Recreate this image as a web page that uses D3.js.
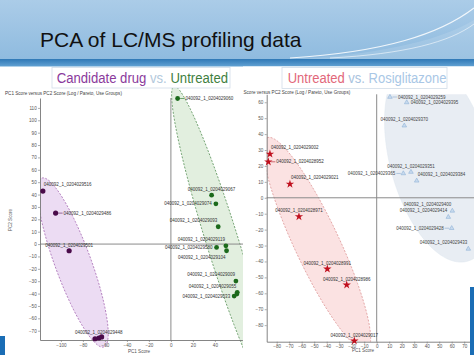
<!DOCTYPE html>
<html><head><meta charset="utf-8">
<script src="https://cdn.jsdelivr.net/npm/d3@7/dist/d3.min.js"></script>
<style>html,body{margin:0;padding:0;background:#fff;} svg{display:block;font-family:Arial,"Liberation Sans",Helvetica,sans-serif;}</style>
</head><body><svg id="c" width="474" height="355"></svg>
<script>
// ---------- text ----------
const slideTitle = "PCA of LC/MS profiling data";
const plotTitleLeft = "PC1 Score versus PC2 Score (Log / Pareto, Use Groups)";
const plotTitleRight = "Score versus PC2 Score (Log / Pareto, Use Groups)";
const xAxisTitle = "PC1 Score";
const yAxisTitle = "PC2 Score";
const legendLeftText = ["Candidate drug", " vs. ", "Untreated"];
const legendLeftColor = ["#8b3a9c", "#b3c9dc", "#3f7f3f"];
const legendRightText = ["Untreated", " vs. ", "Rosiglitazone"];
const legendRightColor = ["#e2677a", "#a9c3de", "#a9c7e6"];

// ---------- left chart: Candidate drug vs Untreated ----------
const leftXTicks = [-100, -80, -60, -40, -20, 0, 20, 40];
const leftYTicks = [-70, -60, -50, -40, -30, -20, -10, 0, 10, 20, 30, 40, 50, 60, 70, 80, 90, 100, 110];
const leftXDomain = [-119, 65];
const leftYDomain = [-77.5, 118];

const drugNames = ["040092_1_0204029516", "040092_1_0204029486", "040092_1_0204029501", "040092_1_0204029448", "", ""];
const drugPC1 = [-116.4, -104.8, -92.5, -65.5, -69, -63];
const drugPC2 = [42.8, 25.0, -5.4, -75.9, -76.5, -75];
const drugLabelSide = ["ar", "R", "a", "a", "", ""];
const drugEllipse = [-89.1, -14.9, -28.2, 68.2, 15.4, 5.0]; // cx, cy, major(x,y), minor(x,y)

const untrNames = ["040092_1_0204029060", "040092_1_0204029067", "040092_1_0204029074", "040092_1_0204029093",
  "040092_1_0204029119", "040092_1_0204029580", "040092_1_0204029104", "040092_1_0204029009",
  "040092_1_0204029055", "040092_1_0204029033", ""];
const untrPC1 = [6.1, 37.0, 40.9, 43.0, 50.0, 41.5, 50.6, 59.1, 60.3, 57.5, 60.0];
const untrPC2 = [117.6, 39.5, 32.5, 14.0, -1.4, -2.7, -5.4, -29.9, -39.0, -42.0, -40.4];
const untrLabelSide = ["R", "a", "l", "al", "al", "l", "bl", "al", "al", "l", ""];
const untrEllipse = [46.4, 3.2, -43.6, 124.3, 13.9, 3.9];

// ---------- right chart: Untreated vs Rosiglitazone ----------
const rightXTicks = [-80, -70, -60, -50, -40, -30, -20, -10, 0, 10, 20, 30, 40, 50, 60, 70];
const rightYTicks = [-80, -70, -60, -50, -40, -30, -20, -10, 0, 10, 20, 30, 40, 50, 60];
const rightXDomain = [-88, 78];
const rightYDomain = [-90.4, 65];

const ctrlNames = ["040092_1_0204029002", "040092_1_0204028952", "040092_1_0204029021", "040092_1_0204028971",
  "040092_1_0204028991", "040092_1_0204028986", "040092_1_0204029017"];
const ctrlPC1 = [-85.4, -86.7, -69.4, -62.2, -39.5, -24.0, -17.9];
const ctrlPC2 = [27.5, 22.6, 8.6, -11.8, -44.7, -54.7, -89.9];
const ctrlLabelSide = ["ar", "R", "ar", "a", "a", "a", "a"];
const ctrlEllipse = [-47.8, -28.9, -39.8, 66.6, 16.2, 6.0];

const rosiNames = ["040092_1_0204029259", "040092_1_0204029395", "040092_1_0204029370", "040092_1_0204029351",
  "040092_1_0204029365", "040092_1_0204029384", "040092_1_0204029400", "040092_1_0204029414",
  "040092_1_0204029428", "040092_1_0204029433"];
const rosiPC1 = [10.6, 24.0, 22.1, 27.4, 21.3, 32.0, 60.5, 57.3, 60.0, 73.3];
const rosiPC2 = [63.3, 59.9, 45.3, 16.2, 15.3, 10.7, -8.2, -12.1, -19.1, -32.1];
const rosiLabelSide = ["R", "r", "a", "a", "L", "ar", "al", "al", "L", "al"];
const rosiEllipse = [50.6, 23.9, 21.8, -63.8, 38.6, 8.1];

// ---------- drawing ----------
const svg = d3.select("#c");
const defs = svg.append("defs");

const hg = defs.append("linearGradient").attr("id", "hg").attr("x1", 0).attr("y1", 0).attr("x2", 0).attr("y2", 1);
hg.append("stop").attr("offset", "0%").attr("stop-color", "#abcce8");
hg.append("stop").attr("offset", "100%").attr("stop-color", "#8fbbdf");
const bg = defs.append("linearGradient").attr("id", "bg").attr("x1", 0).attr("y1", 0).attr("x2", 0).attr("y2", 1);
bg.append("stop").attr("offset", "0%").attr("stop-color", "#2f78b6");
bg.append("stop").attr("offset", "100%").attr("stop-color", "#62a2d3");

// header
svg.append("rect").attr("x", 0).attr("y", 0).attr("width", 474).attr("height", 59).attr("fill", "url(#hg)");
svg.append("path").attr("d", "M300,59 C390,53 445,38 474,20 L474,59 Z").attr("fill", "#ffffff").attr("opacity", 0.12);
svg.append("path").attr("d", "M290,58 C385,52 440,34 474,8").attr("fill", "none").attr("stroke", "#fff").attr("stroke-width", 1.1).attr("opacity", 0.85);
svg.append("path").attr("d", "M330,58 C405,54 450,42 474,24").attr("fill", "none").attr("stroke", "#fff").attr("stroke-width", 0.8).attr("opacity", 0.7);
svg.append("rect").attr("x", 0).attr("y", 59).attr("width", 474).attr("height", 7.5).attr("fill", "url(#bg)");
svg.append("text").attr("x", 40).attr("y", 46.5).attr("font-size", 21).attr("fill", "#111").text(slideTitle);

function ellipsePath(xs, ys, e) {
  const pts = d3.range(160).map(i => {
    const t = 2 * Math.PI * i / 160, c = Math.cos(t), s = Math.sin(t);
    return [xs(e[0] + e[2] * c + e[4] * s), ys(e[1] + e[3] * c + e[5] * s)];
  });
  return d3.line().curve(d3.curveLinearClosed)(pts);
}

function drawLabels(g, xs, ys, names, px, py, sides, color, leaderColor) {
  names.forEach((n, i) => {
    if (!n) return;
    const x = xs(px[i]), y = ys(py[i]);
    const side = sides[i];
    let tx = x, ty = y + 1.6, anchor = "middle";
    if (side === "a") { ty = y - 4.2; }
    else if (side === "ar") { tx = x + 1; ty = y - 4.6; anchor = "start"; }
    else if (side === "al") { tx = x - 1; ty = y - 4.6; anchor = "end"; }
    else if (side === "bl") { tx = x - 1; ty = y + 8.2; anchor = "end"; }
    else if (side === "r") { tx = x + 4; anchor = "start"; }
    else if (side === "l") { tx = x - 4; anchor = "end"; }
    else if (side === "R") { tx = x + 8; anchor = "start"; }
    else if (side === "L") { tx = x - 8; anchor = "end"; }
    if (side === "R" || side === "L") {
      const d = side === "R" ? 1 : -1;
      g.append("line").attr("x1", x + d * 2.5).attr("x2", x + d * 7).attr("y1", y).attr("y2", y)
        .attr("stroke", leaderColor).attr("stroke-width", 0.6);
    }
    g.append("text").attr("x", tx).attr("y", ty).attr("text-anchor", anchor)
      .attr("font-size", 4.5).attr("fill", color).text(n);
  });
}

function styleAxis(g) {
  g.selectAll(".domain").attr("stroke", "#777").attr("stroke-width", 0.9);
  g.selectAll(".tick line").attr("stroke", "#777").attr("stroke-width", 0.6);
  g.selectAll(".tick text").attr("font-size", 4.6).attr("fill", "#555").attr("font-family", "Arial, Liberation Sans, sans-serif");
}

// ===== LEFT PANEL =====
defs.append("clipPath").attr("id", "clipL").append("rect").attr("x", 0).attr("y", 66).attr("width", 243).attr("height", 289);
defs.append("clipPath").attr("id", "clipLp").append("rect").attr("x", 40).attr("y", 66).attr("width", 203).attr("height", 289);
const L = svg.append("g").attr("clip-path", "url(#clipL)");
const xL = d3.scaleLinear().domain(leftXDomain).range([40, 242.4]);
const yL = d3.scaleLinear().domain(leftYDomain).range([340, 98]);

const Le = L.append("g").attr("clip-path", "url(#clipLp)");
Le.append("path").attr("d", ellipsePath(xL, yL, drugEllipse)).attr("fill", "#ecdcf3").attr("stroke", "#9a55a8")
  .attr("stroke-width", 0.7).attr("stroke-dasharray", "2,1.5");
Le.append("path").attr("d", ellipsePath(xL, yL, untrEllipse)).attr("fill", "#e2efdf").attr("stroke", "#3f7f3f")
  .attr("stroke-width", 0.7).attr("stroke-dasharray", "2,1.5");

L.append("line").attr("x1", xL(0)).attr("x2", xL(0)).attr("y1", yL.range()[1]).attr("y2", yL.range()[0]).attr("stroke", "#8a8a8a").attr("stroke-width", 1);
L.append("line").attr("x1", 40).attr("x2", 243).attr("y1", yL(0)).attr("y2", yL(0)).attr("stroke", "#8a8a8a").attr("stroke-width", 1);

const axLy = L.append("g").attr("transform", "translate(40,0)").call(d3.axisLeft(yL).tickValues(leftYTicks).tickSize(2).tickPadding(1.3).tickSizeOuter(0));
styleAxis(axLy);
const axLx = L.append("g").attr("transform", "translate(0,340)").call(d3.axisBottom(xL).tickValues(leftXTicks).tickSize(2).tickPadding(1.5).tickSizeOuter(0));
styleAxis(axLx);

L.append("text").attr("x", 5).attr("y", 94.5).attr("font-size", 4.6).attr("fill", "#444").text(plotTitleLeft);
L.append("text").attr("x", 139).attr("y", 352.5).attr("text-anchor", "middle").attr("font-size", 4.6).attr("fill", "#555").text(xAxisTitle);
L.append("text").attr("transform", "translate(11.5,220) rotate(-90)").attr("text-anchor", "middle").attr("font-size", 4.6).attr("fill", "#555").text(yAxisTitle);

drawLabels(L, xL, yL, drugNames, drugPC1, drugPC2, drugLabelSide, "#333", "#5a1a5a");
drawLabels(L, xL, yL, untrNames, untrPC1, untrPC2, untrLabelSide, "#333", "#1e6e1e");
L.selectAll("circle.drug").data(drugPC1.map((v, i) => [v, drugPC2[i]])).join("circle").attr("class", "drug")
  .attr("cx", d => xL(d[0])).attr("cy", d => yL(d[1])).attr("r", 2.6).attr("fill", "#4a0b4a");
L.selectAll("circle.untr").data(untrPC1.map((v, i) => [v, untrPC2[i]])).join("circle").attr("class", "untr")
  .attr("cx", d => xL(d[0])).attr("cy", d => yL(d[1])).attr("r", 2.4).attr("fill", "#1b6a1b");

// ===== RIGHT PANEL =====
svg.append("rect").attr("x", 243).attr("y", 66.5).attr("width", 231).attr("height", 288.5).attr("fill", "#fff");
const xR = d3.scaleLinear().domain(rightXDomain).range([266.7, 474.2]);
const yR = d3.scaleLinear().domain(rightYDomain).range([341.7, 94.3]);
defs.append("clipPath").attr("id", "clipRp").append("rect").attr("x", 266.7).attr("y", 94.3).attr("width", 210).attr("height", 247.4);
const R = svg.append("g");
const Re = R.append("g").attr("clip-path", "url(#clipRp)");
Re.append("path").attr("d", ellipsePath(xR, yR, rosiEllipse)).attr("fill", "#e8edf3").attr("stroke", "#dfe6ee").attr("stroke-width", 0.5);
Re.append("path").attr("d", ellipsePath(xR, yR, ctrlEllipse)).attr("fill", "#fbe2e2").attr("stroke", "#d98a8a")
  .attr("stroke-width", 0.7).attr("stroke-dasharray", "2,1.5");

R.append("line").attr("x1", xR(0)).attr("x2", xR(0)).attr("y1", 94.3).attr("y2", 341.7).attr("stroke", "#8a8a8a").attr("stroke-width", 1);
R.append("line").attr("x1", 266.7).attr("x2", 474).attr("y1", yR(0)).attr("y2", yR(0)).attr("stroke", "#8a8a8a").attr("stroke-width", 1);

const axRy = R.append("g").attr("transform", "translate(266.7,0)").call(d3.axisLeft(yR).tickValues(rightYTicks).tickSize(2).tickPadding(1.3).tickSizeOuter(0));
styleAxis(axRy);
const axRx = R.append("g").attr("transform", "translate(0,341.7)").call(d3.axisBottom(xR).tickValues(rightXTicks).tickSize(2).tickPadding(1.5).tickSizeOuter(0));
styleAxis(axRx);

R.append("text").attr("x", 243.5).attr("y", 93.5).attr("font-size", 4.6).attr("fill", "#444").text(plotTitleRight);
R.append("text").attr("x", 363).attr("y", 352).attr("text-anchor", "middle").attr("font-size", 4.6).attr("fill", "#555").text(xAxisTitle);

drawLabels(R, xR, yR, ctrlNames, ctrlPC1, ctrlPC2, ctrlLabelSide, "#333", "#b01020");
drawLabels(R, xR, yR, rosiNames, rosiPC1, rosiPC2, rosiLabelSide, "#444", "#8aa9cc");
R.selectAll("path.ctrl").data(ctrlPC1.map((v, i) => [v, ctrlPC2[i]])).join("path").attr("class", "ctrl")
  .attr("transform", d => `translate(${xR(d[0])},${yR(d[1])})`).attr("d", d3.symbol(d3.symbolStar, 22)()).attr("fill", "#c0101e");
R.selectAll("path.rosi").data(rosiPC1.map((v, i) => [v, rosiPC2[i]])).join("path").attr("class", "rosi")
  .attr("transform", d => `translate(${xR(d[0])},${yR(d[1])})`).attr("d", d3.symbol(d3.symbolTriangle, 9)())
  .attr("fill", "#c9dbee").attr("stroke", "#8fb1d6").attr("stroke-width", 0.6);

// ===== legends =====
function legend(x, y, w, h, texts, colors, tx, sx) {
  svg.append("rect").attr("x", x).attr("y", y).attr("width", w).attr("height", h).attr("fill", "#fff").attr("stroke", "#d2dde8").attr("stroke-width", 0.8);
  const t = svg.append("g").attr("transform", `translate(${tx},${y + 15.8}) scale(${sx},1)`)
    .append("text").attr("x", 0).attr("y", 0).attr("font-size", 15).attr("xml:space", "preserve").style("white-space", "pre");
  texts.forEach((s, i) => t.append("tspan").attr("fill", colors[i]).text(s));
}
legend(52, 67.5, 178, 20.5, legendLeftText, legendLeftColor, 56.7, 0.875);
legend(282, 67.5, 165, 21, legendRightText, legendRightColor, 287.7, 0.867);

// slide edge decorations
svg.append("rect").attr("x", 0).attr("y", 336).attr("width", 5).attr("height", 19).attr("fill", "#1a6db5");
svg.append("rect").attr("x", 470).attr("y", 287).attr("width", 4).attr("height", 68).attr("fill", "#1a6db5");
</script></body></html>
